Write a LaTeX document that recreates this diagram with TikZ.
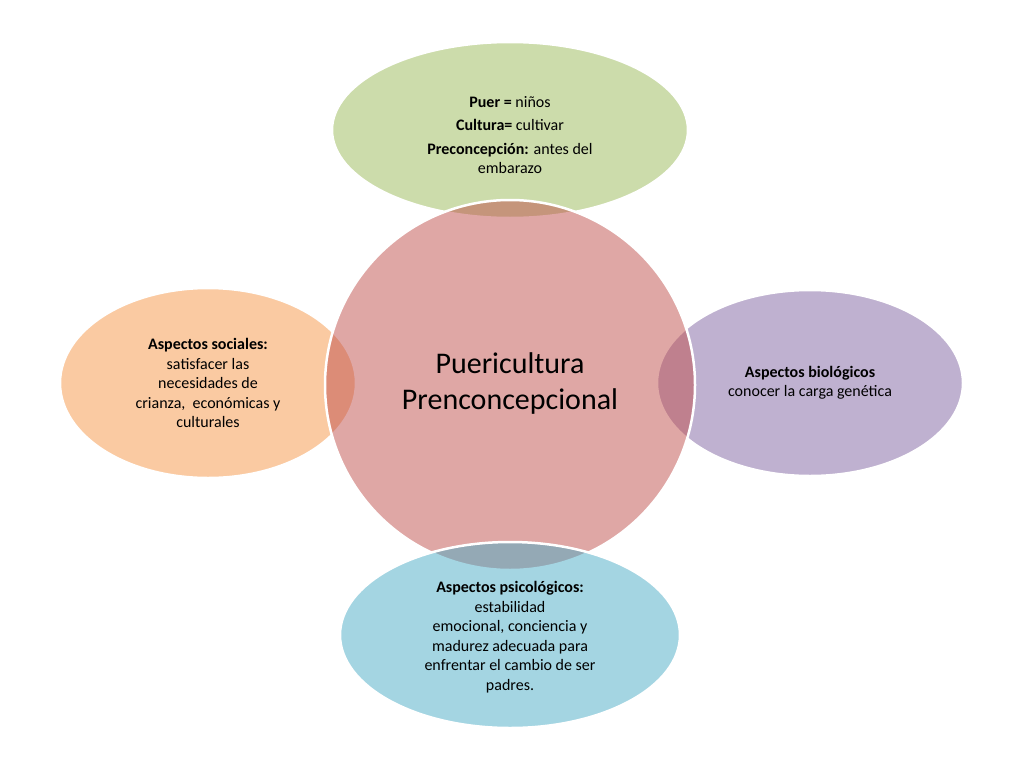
\documentclass[tikz,border=0pt]{standalone}
\usepackage{fontspec}
\setmainfont{Carlito}
\begin{document}
\begin{tikzpicture}[x=1pt,y=-1pt,
 blob/.style={draw=white,line width=2.5pt,fill opacity=0.5},
 txt/.style={align=center,font=\fontsize{16}{19.5}\selectfont,text=black}]
\useasboundingbox (0,0) rectangle (1024,768);
\fill[white] (0,0) rectangle (1024,768);
\draw[blob,fill={rgb,255:red,155;green,187;blue,89}] (510,130) ellipse [x radius=178,y radius=88];
\draw[blob,fill={rgb,255:red,247;green,150;blue,70}] (208,383) ellipse [x radius=148,y radius=95];
\draw[blob,fill={rgb,255:red,128;green,100;blue,162}] (810,383) ellipse [x radius=153,y radius=93];
\draw[blob,fill={rgb,255:red,192;green,80;blue,77}] (510,385) circle [radius=185];
\draw[blob,fill={rgb,255:red,75;green,172;blue,198}] (510,635) ellipse [x radius=170,y radius=93];
\node[txt] (ttop) at (510,135) {\textbf{Puer =} niños\\[4pt]\textbf{Cultura=} cultivar\\[4pt]\textbf{Preconcepción:} antes del\\embarazo};
\node[txt,font=\fontsize{30}{36}\selectfont] (center) at (510,383) {Puericultura\\Prenconcepcional};
\node[txt] (left) at (208,383) {\textbf{Aspectos sociales:}\\satisfacer las\\necesidades de\\crianza,\ \ económicas y\\culturales};
\node[txt] (right) at (810,383) {\textbf{Aspectos biológicos}\\conocer la carga genética};
\node[txt] (bottom) at (510,637) {\textbf{Aspectos psicológicos:}\\estabilidad\\emocional, conciencia y\\madurez adecuada para\\enfrentar el cambio de ser\\padres.};
\end{tikzpicture}
\end{document}
